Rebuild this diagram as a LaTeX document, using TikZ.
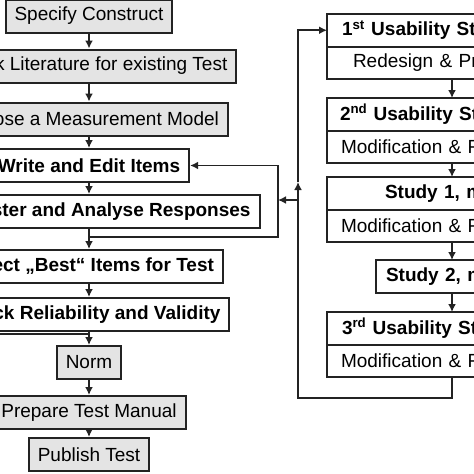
\documentclass[tikz,border=0pt]{standalone}
\usepackage{fontspec}
\setmainfont{Liberation Sans}
\usetikzlibrary{arrows.meta}

\definecolor{boxline}{RGB}{35,35,35}
\definecolor{boxgrey}{RGB}{228,228,228}

\tikzset{every picture/.style={line width=1.8pt}}
\tikzset{
  greybox/.style={draw=boxline, fill=boxgrey, line width=2pt, minimum height=33pt, inner xsep=9pt, inner ysep=0pt, font=\fontsize{19}{22}\selectfont},
  whitebox/.style={greybox, fill=white, font=\fontsize{19}{22}\selectfont\bfseries},
  rowbox/.style={draw=boxline, fill=white, line width=2pt, outer sep=0pt, anchor=north west, text width=240pt, align=left, minimum height=32.5pt, inner ysep=0pt, font=\fontsize{19}{22}\selectfont},
  arr/.style={draw=boxline, -{Latex[length=8pt,width=8pt]}},
  plain/.style={draw=boxline}
}

\begin{document}
\begin{tikzpicture}[x=1pt,y=1pt,yscale=-1,xscale=1]
    \path[use as bounding box] (0,0) rectangle (474,474);
    \clip (0,0) rectangle (474,474);

    %Left column: test construction steps
    \node[greybox]  (specify)  at (89,16)    {Specify Construct};
    \node[greybox]  (lit)      at (89,66)    {Check Literature for existing Test};
    \node[greybox]  (model)    at (89,119)   {Choose a Measurement Model};
    \node[whitebox] (write)    at (89,165.5) {Write and Edit Items};
    \node[whitebox] (admin)    at (89,211.5) {Administer and Analyse Responses};
    \node[whitebox] (select)   at (89,266.5) {Select „Best“ Items for Test};
    \node[whitebox] (check)    at (89,314.5) {Check Reliability and Validity};
    \node[greybox]  (norm)     at (89,362.5) {Norm};
    \node[greybox]  (manual)   at (89,412.5) {Prepare Test Manual};
    \node[greybox]  (publish)  at (89,454.5) {Publish Test};

    %Right column: usability studies
    \node[rowbox, inner xsep=15pt, font=\fontsize{19}{22}\selectfont\bfseries] (us1) at (327,14) {1\textsuperscript{st} Usability Study};
    \node[rowbox, inner xsep=26pt] (us1b) at (us1.south west) {Redesign \& Pretest};
    \node[rowbox, inner xsep=13pt, font=\fontsize{19}{22}\selectfont\bfseries] (us2) at (327,98) {2\textsuperscript{nd} Usability Study};
    \node[rowbox, inner xsep=14pt] (us2b) at (us2.south west) {Modification \& Feedback};
    \node[rowbox, inner xsep=58pt, font=\fontsize{19}{22}\selectfont\bfseries] (st1) at (327,177) {Study 1, main sample};
    \node[rowbox, inner xsep=14pt] (st1b) at (st1.south west) {Modification \& Feedback};
    \node[rowbox, inner xsep=10pt, minimum height=33pt, font=\fontsize{19}{22}\selectfont\bfseries] (st2) at (376,260) {Study 2, main sample};
    \node[rowbox, inner xsep=15pt, font=\fontsize{19}{22}\selectfont\bfseries] (us3) at (327,312) {3\textsuperscript{rd} Usability Study};
    \node[rowbox, inner xsep=14pt] (us3b) at (us3.south west) {Modification \& Feedback};

    %Helper coordinates
    \coordinate (arrx)   at (452,0);
    \coordinate (split)  at (89,237);
    \coordinate (fbk)    at (278,237);
    \coordinate (fbkin)  at (278,200);
    \coordinate (loopx)  at (298,398);
    \coordinate (loopup) at (298,182);
    \coordinate (leftin) at (-5,334);

    %Straight arrows, left column
    \draw[arr] (specify) -- (lit);
    \draw[arr] (lit) -- (model);
    \draw[arr] (model) -- (write);
    \draw[arr] (write) -- (admin);
    \draw[arr] (admin) -- (select);
    \draw[arr] (select) -- (check);
    \draw[arr] (check) -- (norm);
    \draw[arr] (norm) -- (manual);
    \draw[arr] (manual) -- (publish);

    %Feedback loop to Write and Edit Items
    \draw[arr] (split) -- (fbk) |- (write.east);
    \draw[plain] (leftin) -- (leftin -| check.south);

    %Straight arrows, right column
    \draw[arr] (us1b.south -| arrx) -- (us2.north -| arrx);
    \draw[arr] (us2b.south -| arrx) -- (st1.north -| arrx);
    \draw[arr] (st1b.south -| arrx) -- (st2.north -| arrx);
    \draw[arr] (st2.south -| arrx) -- (us3.north -| arrx);

    %Return loop of the usability studies
    \draw[arr] (us3b.south -| arrx) -- (arrx |- loopx) -- (loopx) -- (loopup);
    \draw[arr] (loopup) |- (us1.west);
    \draw[arr] (loopx |- fbkin) -- (fbkin);
\end{tikzpicture}
\end{document}
